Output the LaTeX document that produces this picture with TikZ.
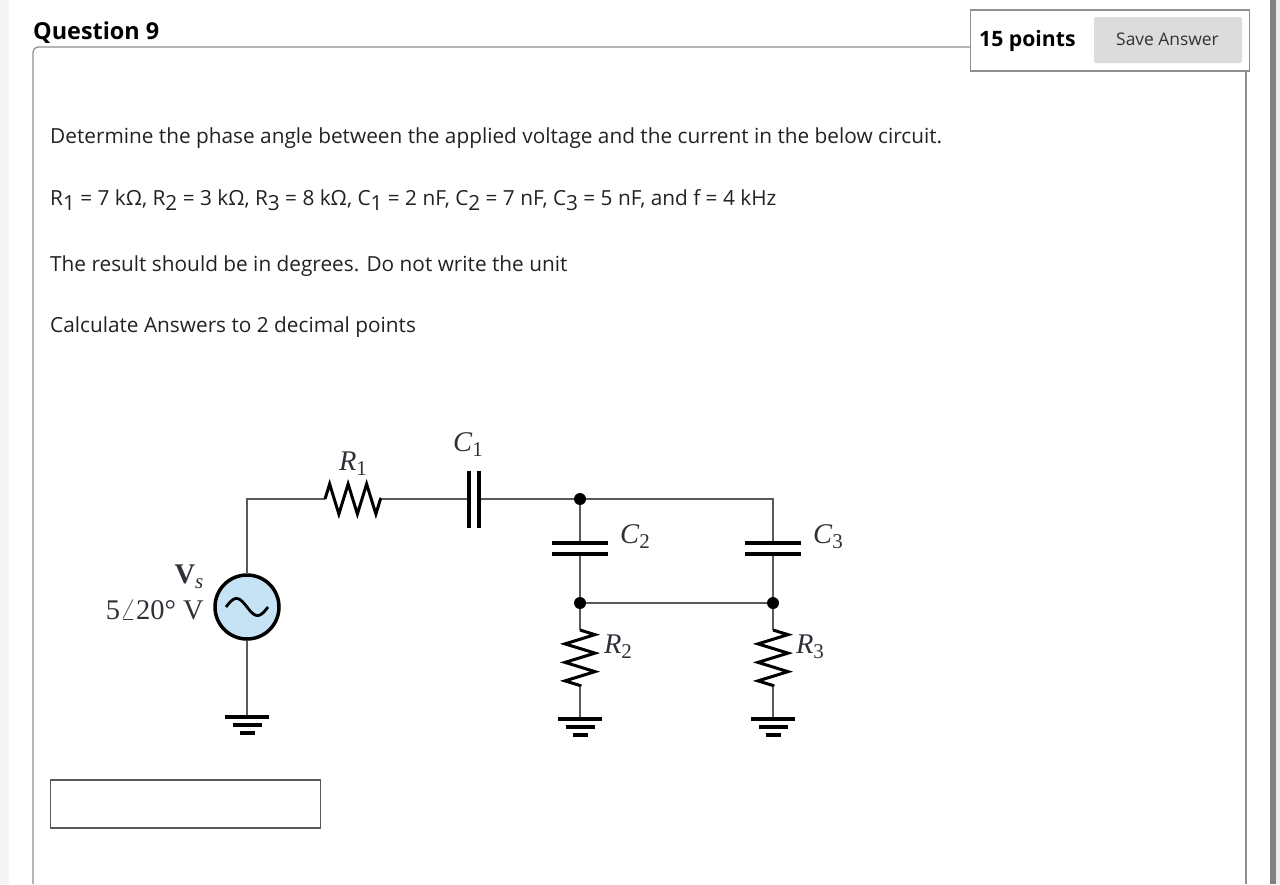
\documentclass[tikz,border=0pt]{standalone}
\usepackage{fontspec}
\setmainfont{Open Sans}
\newfontfamily\circfont{Liberation Serif}
\usepackage{tikz}
\usetikzlibrary{positioning}
\usetikzlibrary{decorations.pathmorphing}
\definecolor{wiregray}{HTML}{5A5A5A}
\definecolor{srcblue}{HTML}{C6E3F6}
\definecolor{btngray}{HTML}{DCDCDC}
\definecolor{panelgray}{HTML}{8E8E8E}
\definecolor{txtgray}{HTML}{222222}
\definecolor{lblgray}{HTML}{2E3138}
\newcommand{\lowsub}[1]{\raisebox{-4.5pt}{#1}}
\newcommand{\csym}[2]{\textit{#1}\raisebox{-5pt}{\fontsize{21}{21}\selectfont #2}}
\tikzset{
  wire/.style={draw=wiregray, line width=1.6pt},
  plate/.style={line width=4pt},
  resistor/.style={line width=3pt, decorate, decoration={zigzag, segment length=18.5pt, amplitude=15pt}},
  dot/.style={circle, fill, inner sep=0pt, minimum size=12pt},
  lbl/.style={text=lblgray, font=\circfont\fontsize{28.5}{28}\selectfont, inner sep=0pt},
  txtline/.style={anchor=base west, text=txtgray, font=\fontsize{20.8}{24}\selectfont, inner sep=0pt},
  source/.style={circle, draw, line width=3.5pt, fill=srcblue, minimum size=64pt, inner sep=0pt},
  ground/.pic={\draw[line width=4pt] (-22,0) -- (22,0) (-14.5,8) -- (14.5,8) (-7.5,16) -- (7.5,16);}
}
\begin{document}
\begin{tikzpicture}[x=1pt, y=-1pt]
\useasboundingbox (0,0) rectangle (1280,884);
\fill[white] (0,0) rectangle (1280,884);
\fill[black!4] (0,0) rectangle (9,884);
\fill[black!50] (1270,0) rectangle (1276,884);
\fill[black!8] (1276,0) rectangle (1280,884);

% header and panel
\node[anchor=base west, inner sep=0pt, font=\bfseries\fontsize{23.4}{26}\selectfont] (title) at (33,39.3) {Question 9};
\node[draw=panelgray, line width=1.2pt, fill=white, minimum width=279pt, minimum height=61pt] (hdr) at (1110,40.5) {};
\node[fill=btngray, rounded corners=2pt, minimum width=148pt, minimum height=46pt] (save) at (1168,40) {};
\node[anchor=base, inner sep=0pt, text=black!80, font=\fontsize{17.4}{20}\selectfont] at (1167.5,45.7) {Save Answer};
\node[anchor=base west, inner sep=0pt, font=\bfseries\fontsize{21.2}{24}\selectfont] (pts) at (979,46.7) {15 points};
\coordinate (ptop) at (hdr.west |- 0,47);
\draw[panelgray, line width=1.2pt, rounded corners=5pt] (ptop) -- (33,47) -- (33,884);
\draw[panelgray, line width=1.2pt] (1246,71) -- (1246,884);

\node[txtline] (q1) at (50,143.3) {Determine the phase angle between the applied voltage and the current in the below circuit.};
\node[txtline] (q2) at (50,205.7) {R\lowsub{1} = 7 kΩ, R\lowsub{2} = 3 kΩ, R\lowsub{3} = 8 kΩ, C\lowsub{1} = 2 nF, C\lowsub{2} = 7 nF, C\lowsub{3} = 5 nF, and f = 4 kHz};
\node[txtline] (q3) at (50,271) {The result should be in degrees. Do not write the unit};
\node[txtline] (q4) at (50,332.3) {Calculate Answers to 2 decimal points};
\node[draw=black!65, line width=1.5pt, minimum width=270pt, minimum height=48pt] (answer) at (185.7,804) {};

% circuit
\coordinate (tl) at (247,499);
\coordinate (r1a) at (325,499);
\coordinate (r1b) at (381.4,499);
\coordinate (c1a) at (469,499);
\coordinate (c1b) at (479,499);
\node[dot] (n1) at (580,499) {};
\coordinate (tr) at (773,499);
\coordinate (c2a) at (580,543);
\coordinate (c2b) at (580,554);
\coordinate (c3a) at (773,543);
\coordinate (c3b) at (773,554);
\node[dot] (n2) at (580,603) {};
\node[dot] (n3) at (773,603) {};
\coordinate (r2a) at (580,630);
\coordinate (r2b) at (580,686.4);
\coordinate (r3a) at (773,630);
\coordinate (r3b) at (773,686.4);
\coordinate (g1) at (247,717);
\coordinate (g2) at (580,719);
\coordinate (g3) at (773,719);
\node[source] (vs) at (247,607) {};

\draw[wire] (vs.north) -- (tl) -- (r1a);
\draw[wire] (r1b) -- (c1a);
\draw[wire] (c1b) -- (n1) -- (tr) -- (c3a);
\draw[wire] (n1) -- (c2a);
\draw[wire] (c2b) -- (n2) -- (r2a);
\draw[wire] (c3b) -- (n3) -- (r3a);
\draw[wire] (n2) -- (n3);
\draw[wire] (vs.south) -- (g1);
\draw[wire] (r2b) -- (g2);
\draw[wire] (r3b) -- (g3);
\draw[resistor] (r1a) -- (r1b);
\draw[resistor] (r2a) -- (r2b);
\draw[resistor] (r3a) -- (r3b);
\draw[plate] (c1a) ++(0,-28.5) -- ++(0,57);
\draw[plate] (c1b) ++(0,-28.5) -- ++(0,57);
\foreach \c in {c2a,c2b,c3a,c3b} {
\draw[plate] (\c) ++(-28,0) -- ++(56,0);
}
\draw[line width=2.8pt, domain=-21:21, samples=50, smooth] plot ({247+\x},{607+8.5*sin(\x*8.57)});
\pic at (g1) {ground};
\pic at (g2) {ground};
\pic at (g3) {ground};

\node[lbl] (lr1) at (353,464) {\csym{R}{1}};
\node[lbl] (lc1) at (468,445) {\csym{C}{1}};
\node[lbl] (lc2) at (635,537) {\csym{C}{2}};
\node[lbl] (lc3) at (828,537) {\csym{C}{3}};
\node[lbl] (lr2) at (618,647) {\csym{R}{2}};
\node[lbl] (lr3) at (810,647) {\csym{R}{3}};
\node[lbl] (lvs) at (189,577) {\textbf{V}\raisebox{-5pt}{\fontsize{21}{21}\selectfont\textit{s}}};
\node[lbl, anchor=east] (lval) at (204,610) {5$\angle$20° V};
\end{tikzpicture}
\end{document}
